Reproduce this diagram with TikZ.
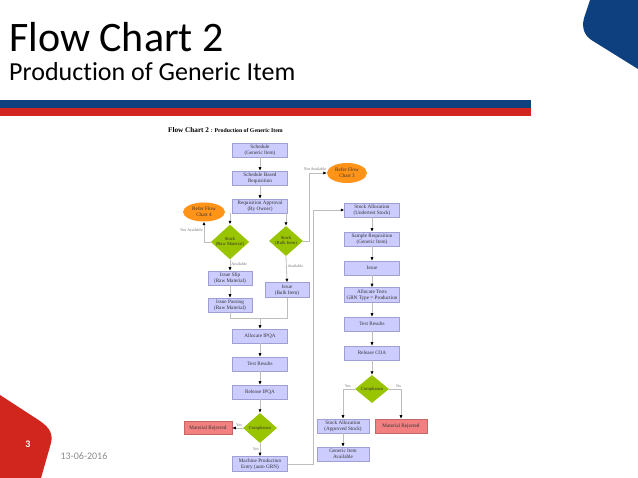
\documentclass[tikz,border=0pt]{standalone}
\usepackage{fontspec}
\setmainfont{Carlito}[Ligatures=NoCommon]
\newfontfamily\chf{Liberation Serif}
\usetikzlibrary{shapes.geometric,arrows.meta}
\definecolor{slblue}{HTML}{0E3F7F}
\definecolor{slred}{HTML}{D0261E}
\definecolor{boxfill}{HTML}{CCCCFF}
\definecolor{boxline}{HTML}{9F9FD6}
\definecolor{dia}{HTML}{99C400}
\definecolor{orng}{HTML}{FF9419}
\definecolor{rej}{HTML}{F28080}
\definecolor{lnk}{HTML}{BDBDBD}
\definecolor{dategray}{HTML}{8C8C8C}
\begin{document}
\begin{tikzpicture}[x=1pt,y=-1pt,
  box/.style={draw=boxline, line width=0.5, fill=boxfill, minimum width=55, minimum height=14, inner sep=0,
    font=\chf\fontsize{5.2}{5.8}\selectfont, align=center, text=black!80},
  rbox/.style={box, fill=rej, draw=rej!80!black},
  dec/.style={diamond, fill=dia, minimum width=34, minimum height=30, inner sep=0, aspect=1.1,
    font=\chf\fontsize{4.6}{5}\selectfont, align=center, text=black!80},
  ell/.style={ellipse, fill=orng, minimum width=42, minimum height=19, inner sep=0,
    font=\chf\fontsize{5.2}{5.8}\selectfont, align=center, text=black!80},
  lab/.style={font=\chf\fontsize{4}{4}\selectfont, text=black!55, inner sep=1},
  ln/.style={draw=lnk, line width=0.8},
  arr/.style={ln, -{Latex[color=black,length=3.5,width=3.2]}}
]
\useasboundingbox (0,0) rectangle (638,478);
\fill[white] (0,0) rectangle (638,478);

% slide decorations
\fill[slblue] (0,100) rectangle (531,108);
\fill[slred] (0,108) rectangle (531,116);
\fill[slblue] (590,0) -- (584,18) .. controls (581,30) and (586,37) .. (593,41) -- (638,69) -- (638,0) -- cycle;
\fill[slred] (0,395) -- (40,421) .. controls (50,428) and (53,434) .. (51,443) -- (41,478) -- (0,478) -- cycle;
\node[text=white, font=\bfseries\fontsize{10}{10}\selectfont, inner sep=0] (pg) at (28,444) {3};
\node[text=dategray, font=\fontsize{10}{10}\selectfont, inner sep=0] (date) at (84,456) {13-06-2016};
\node[anchor=base west, inner sep=0, font=\fontsize{42}{42}\selectfont] (ttl) at (9,52) {Flow Chart 2};
\node[anchor=base west, inner sep=0, font=\fontsize{26}{26}\selectfont] (sub) at (9,81) {Production of Generic Item};

% chart title
\node[anchor=base west, inner sep=0] (ctitle) at (168,133) {\chf\bfseries\fontsize{7.2}{7.2}\selectfont Flow Chart 2 {\fontsize{5.8}{5.8}\selectfont : Production of Generic Item}};

% left column
\node[box] (sched) at (260,150) {Schedule\\(Generic Item)};
\node[box] (sbr) at (260,178) {Schedule Based\\Requisition};
\node[box] (ra) at (260,206) {Requisition Approval\\(By Owner)};
\node[ell] (rf4) at (204,212) {Refer Flow\\Chart 4};
\node[dec] (srm) at (230,242) {Stock\\(Raw Material)};
\node[dec] (sbi) at (286,241) {Stock\\(Bulk Item)};
\node[ell, minimum width=40, minimum height=20] (rf3) at (347,173) {Refer Flow\\Chart 3};
\node[box, minimum width=44] (isl) at (230,278) {Issue Slip\\(Raw Material)};
\node[box, minimum width=44] (ipa) at (230,305) {Issue Passing\\(Raw Material)};
\node[box, minimum width=44, minimum height=15] (ibi) at (287,290) {Issue\\(Bulk Item)};
\node[box] (aip) at (260,336) {Allocate IPQA};
\node[box] (tr1) at (260,364) {Test Results};
\node[box] (rip) at (260,392) {Release IPQA};
\node[dec] (cp1) at (260,428) {Compliance};
\node[rbox, minimum width=48, minimum height=13] (mr1) at (208,428) {Material Rejected};
\node[box, minimum height=15] (mpe) at (260,464) {Machine Production\\Entry (auto GRN)};

% right column
\node[box] (sau) at (372,210) {Stock Allocation\\(Undertest Stock)};
\node[box] (srq) at (372,239) {Sample Requisition\\(Generic Item)};
\node[box] (iss) at (372,268) {Issue};
\node[box, minimum height=15] (ats) at (372,295) {Allocate Tests\\GRN Type = Production};
\node[box] (tr2) at (372,324) {Test Results};
\node[box] (rco) at (372,353) {Release COA};
\node[dec, minimum height=28] (cp2) at (372,389) {Compliance};
\node[box, minimum width=52] (saa) at (343,426) {Stock Allocation\\(Approved Stock)};
\node[rbox, minimum width=52] (mr2) at (401,426) {Material Rejected};
\node[box, minimum width=52] (gia) at (343,454) {Generic Item\\Available};

% connectors
\draw[arr] (sched) -- (sbr);
\draw[arr] (sbr) -- (ra);
\draw[arr] (srm.north |- ra.south) -- (srm.north);
\draw[arr] (sbi.north |- ra.south) -- (sbi.north);
\draw[arr] (srm.west) -| node[lab, pos=0.8, left] {Not Available} (rf4.south);
\draw[arr] (sbi.east) -- ++(6,0) coordinate (c1) |- (rf3.west);
\node[lab] (na3) at (315,169.5) {Not Available};
\draw[arr] (srm.south) -- node[lab, right, pos=0.45] {Available} (isl.north);
\draw[arr] (isl) -- (ipa);
\draw[arr] (sbi.south) -- node[lab, right, pos=0.4] {Available} (ibi.north);
\coordinate (m) at (260,318);
\draw[ln] (ipa.south) |- (m);
\draw[ln] (ibi.south) |- (m);
\draw[arr] (m) -- (aip.north);
\draw[arr] (aip) -- (tr1);
\draw[arr] (tr1) -- (rip);
\draw[arr] (rip) -- (cp1);
\draw[arr] (cp1.west) -- node[lab, above, pos=0.35] {Yes} (mr1.east);
\draw[arr] (cp1.south) -- node[lab, left, pos=0.45] {Yes} (mpe.north);
\draw[arr] (mpe.east) -- ++(26,0) coordinate (c2) |- (sau.west);
\draw[arr] (sau) -- (srq);
\draw[arr] (srq) -- (iss);
\draw[arr] (iss) -- (ats);
\draw[arr] (ats) -- (tr2);
\draw[arr] (tr2) -- (rco);
\draw[arr] (rco) -- (cp2);
\draw[arr] (cp2.west) -| node[lab, above, pos=0.3] {Yes} (saa.north);
\draw[arr] (cp2.east) -| node[lab, above, pos=0.4] {No} (mr2.north);
\draw[arr] (saa) -- (gia);
\end{tikzpicture}
\end{document}
